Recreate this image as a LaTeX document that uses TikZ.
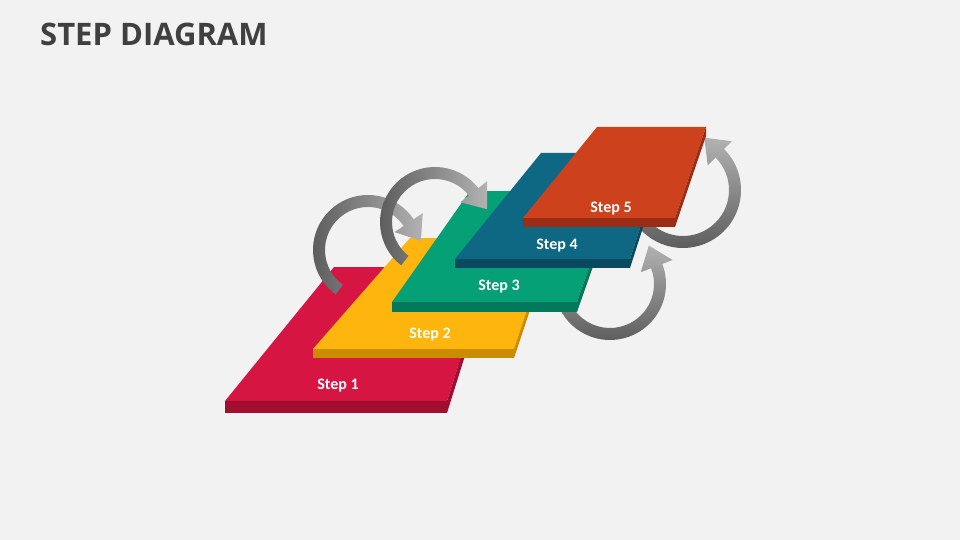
\documentclass[tikz,border=0pt]{standalone}
\usepackage{fontspec}
\setmainfont{Carlito}
\newfontfamily\titlefont{Open Sans}
\usetikzlibrary{calc}
\definecolor{bgc}{RGB}{242,242,242}
\definecolor{titlec}{RGB}{64,64,64}
\definecolor{redtop}{RGB}{215,21,66}
\definecolor{redfront}{RGB}{160,14,48}
\definecolor{yeltop}{RGB}{254,182,14}
\definecolor{yelfront}{RGB}{203,140,0}
\definecolor{grntop}{RGB}{5,160,117}
\definecolor{grnfront}{RGB}{4,120,90}
\definecolor{blutop}{RGB}{14,103,131}
\definecolor{blufront}{RGB}{10,74,96}
\definecolor{orgtop}{RGB}{205,66,28}
\definecolor{orgfront}{RGB}{155,45,22}
\definecolor{arrdark}{RGB}{88,88,88}
\definecolor{arrlight}{RGB}{178,178,178}
\newcommand{\shw}{6}
\newcommand{\hhw}{17}
\newcommand{\hlen}{22}
% plate: yt, yf, xl, xr, tl, tr, thickness, topcolor, frontcolor
\newcommand{\myplate}[9]{%
  \fill[#8] (#3,#2) -- (#4,#2) -- (#6,#1) -- (#5,#1) -- cycle;
  \fill[#9] (#3,#2) -- (#4,#2) -- (#4,#2+#7) -- (#3,#2+#7) -- cycle;
  \fill[#9] (#4,#2) -- (#6,#1) -- (#6,#1+#7) -- (#4,#2+#7) -- cycle;
}
% bent arrow: center, r, start, end, dir, shading options
\newcommand{\bentarrow}[6]{%
  \pgfmathsetmacro\aro{#2+\shw}\pgfmathsetmacro\ari{#2-\shw}%
  \pgfmathsetmacro\aho{#2+\hhw}\pgfmathsetmacro\ahi{#2-\hhw}%
  \pgfmathsetmacro\atang{#4+90*#5}%
  \shade[#6] ($#1+(#3:\aro)$) arc[start angle=#3,end angle=#4,radius=\aro]
    -- ($#1+(#4:\aho)$) -- ($#1+(#4:#2)+(\atang:\hlen)$) -- ($#1+(#4:\ahi)$)
    -- ($#1+(#4:\ari)$) arc[start angle=#4,end angle=#3,radius=\ari] -- cycle;
}
\tikzset{
  steplabel/.style={text=white,font=\bfseries\fontsize{16}{18}\selectfont,anchor=base,inner sep=0pt},
  arrlr/.style={left color=arrdark,right color=arrlight},
  arrtb/.style={top color=arrlight,bottom color=arrdark},
}
\begin{document}
\begin{tikzpicture}[x=1pt,y=-1pt]
\useasboundingbox (0,0) rectangle (960,540);
\fill[bgc] (0,0) rectangle (960,540);
\node[anchor=base west,inner sep=0pt,text=titlec,font=\titlefont\bfseries\fontsize{31}{36}\selectfont] (title) at (40,46) {STEP DIAGRAM};
% plates
\myplate{267}{401}{225}{447}{334}{489}{12}{redtop}{redfront}
\myplate{238}{349}{313}{514}{410}{551}{9}{yeltop}{yelfront}
\bentarrow{(368,250)}{49}{126}{326}{1}{arrlr}
\bentarrow{(610,284)}{50}{160}{-21}{-1}{arrtb}
\myplate{191}{302}{392}{577}{470}{616}{10}{grntop}{grnfront}
\bentarrow{(435,222)}{49}{128}{322}{1}{arrlr}
\bentarrow{(683,190)}{52}{140}{-45}{-1}{arrtb}
\myplate{153}{259}{455}{630}{541}{664}{9}{blutop}{blufront}
\myplate{127}{218}{523}{675}{597}{706}{9}{orgtop}{orgfront}
% labels
\node[steplabel] (s1) at (338,389) {Step 1};
\node[steplabel] (s2) at (430,338) {Step 2};
\node[steplabel] (s3) at (499,290) {Step 3};
\node[steplabel] (s4) at (557,249) {Step 4};
\node[steplabel] (s5) at (611,212) {Step 5};
\end{tikzpicture}
\end{document}
